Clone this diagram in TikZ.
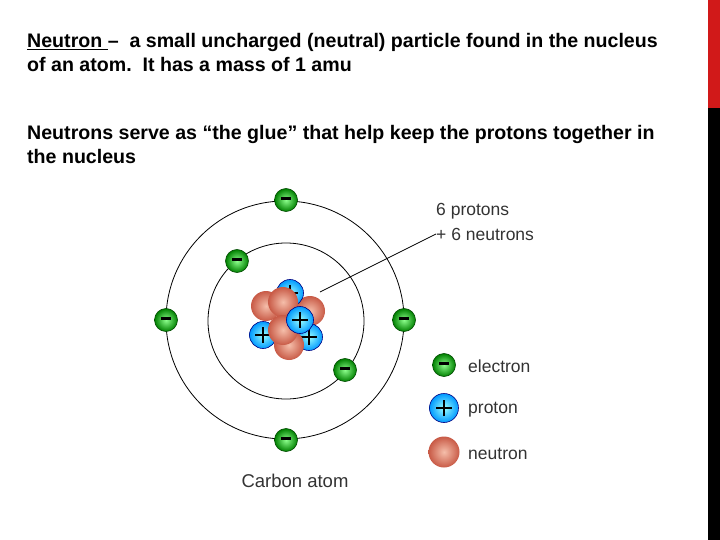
\documentclass[tikz,border=0pt]{standalone}
\usepackage{fontspec}
\setmainfont{Liberation Sans}
\begin{document}
\begin{tikzpicture}[x=1pt,y=-1pt,
  electron/.style={circle,inner sep=0pt,minimum size=23pt,draw=green!30!black,line width=0.6pt,inner color=green!45!white,outer color=green!50!black,text=black},
  proton/.style={circle,inner sep=0pt,minimum size=27pt,draw=blue!50!black,line width=0.6pt,inner color=cyan!40!white,outer color=cyan!60!blue,text=black},
  neutron/.style={circle,inner sep=0pt,minimum size=30pt,inner color={rgb,255:red,245;green,190;blue,170},outer color={rgb,255:red,200;green,90;blue,70}},
  orbit/.style={draw=black,line width=0.8pt},
  lbl/.style={font=\fontsize{17.5}{20}\selectfont,text=black!80,anchor=west,inner sep=0pt},
  para/.style={font=\bfseries\fontsize{19.6}{24}\selectfont,anchor=north west,align=left,inner sep=0pt}]
\useasboundingbox (0,0) rectangle (720,540);
\fill[white] (0,0) rectangle (720,540);
\fill[red!80!black!90] (708,0) rectangle (720,108);
\fill[black] (708,108) rectangle (720,540);
\node[para] (t1) at (27,33) {\underline{Neutron }–\ \ a small uncharged (neutral) particle found in the nucleus\\of an atom.\ \ It has a mass of 1 amu};
\node[para] (t2) at (27,125) {Neutrons serve as “the glue” that help keep the protons together in\\the nucleus};
\draw[orbit] (285,320) circle (119);
\draw[orbit] (286,321) circle (78);
\newcommand{\mn}{\rule[2.5pt]{10pt}{2.8pt}}
\newcommand{\pl}{\makebox[0pt]{\rule[-1pt]{2.8pt}{16pt}}\makebox[0pt]{\rule[5.6pt]{16pt}{2.8pt}}}
\node[electron] (e1) at (286,200) {\mn};
\node[electron] (e2) at (166,320) {\mn};
\node[electron] (e3) at (404,320) {\mn};
\node[electron] (e4) at (286,440) {\mn};
\node[electron] (e5) at (237,261) {\mn};
\node[electron] (e6) at (345,370) {\mn};
\node[neutron] (n1) at (266,306) {};
\node[neutron] (n2) at (310,311) {};
\node[proton] (p1) at (290,293) {\pl};
\node[neutron] (n3) at (283,302) {};
\node[proton] (p2) at (263,335) {\pl};
\node[proton] (p3) at (309,337) {\pl};
\node[neutron] (n4) at (289,345) {};
\node[neutron] (n5) at (283,330) {};
\node[proton] (p4) at (300,320) {\pl};
\node[lbl] (pn) at (436,211) {6 protons};
\node[lbl] (nn) at (436,234) {+ 6 neutrons};
\coordinate (tip) at (320,292);
\draw[line width=0.7pt] (tip) -- (nn.west);
\node[electron] (le) at (444,365) {\mn};
\node[proton,minimum size=29pt] (lp) at (444,408) {\pl};
\node[neutron,minimum size=31pt] (ln) at (444,452) {};
\node[lbl] at (468,366) {electron};
\node[lbl] at (468,410) {proton};
\node[lbl] at (468,454) {neutron};
\node[lbl,anchor=center,font=\fontsize{18.5}{20}\selectfont] (cap) at (295,481) {Carbon atom};
\end{tikzpicture}
\end{document}
